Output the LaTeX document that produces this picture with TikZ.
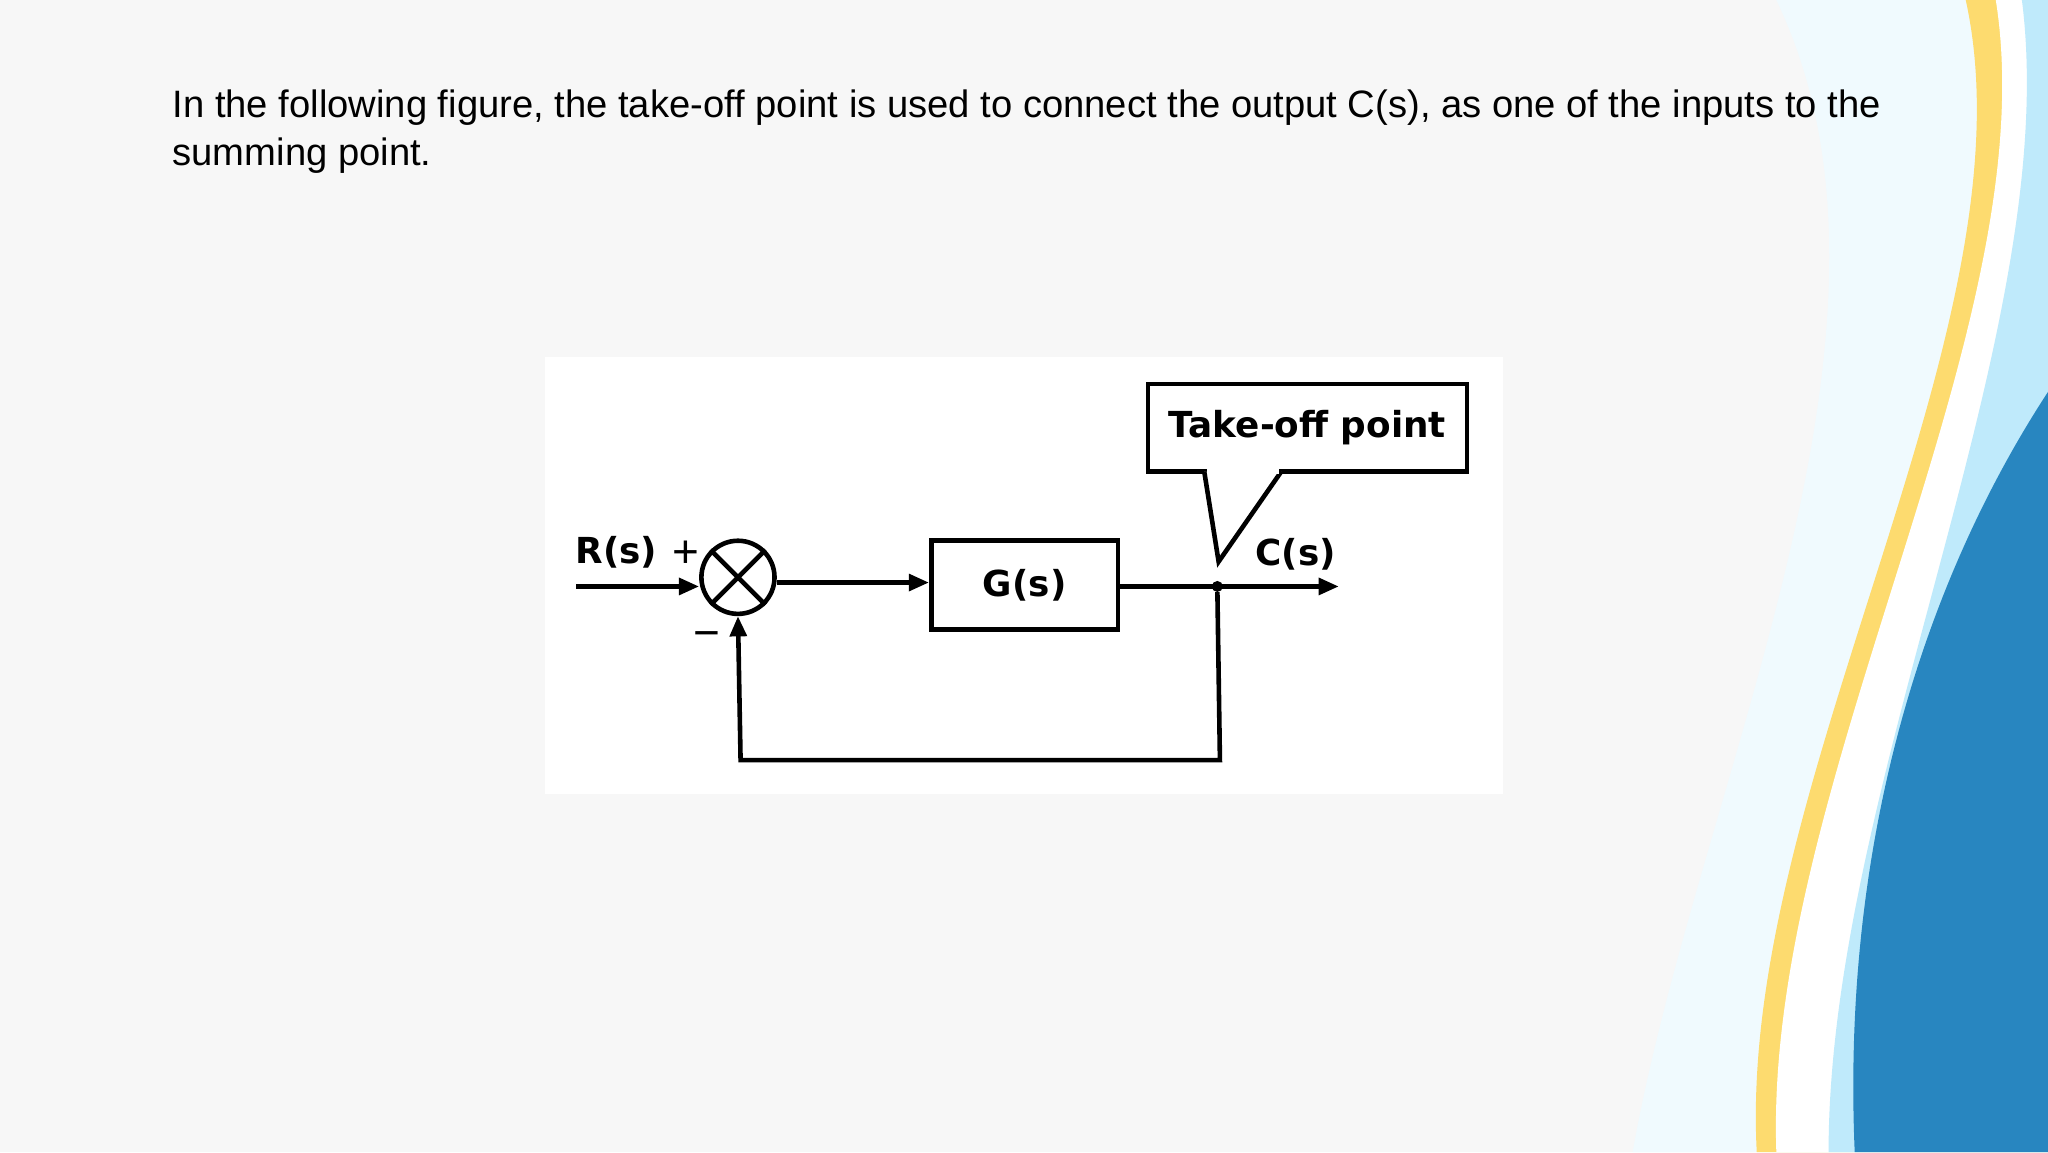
\documentclass[tikz,border=0pt]{standalone}
\usepackage{fontspec}
\setmainfont{Liberation Sans}
\newfontfamily\diafont{DejaVu Sans}
\usetikzlibrary{arrows.meta}
\begin{document}
\begin{tikzpicture}[x=0.05cm,y=-0.05cm,
  ln/.style={line width=5pt},
  arr/.style={ln,-{Triangle[length=22pt,width=18pt]}},
  lbl/.style={font=\diafont\bfseries\fontsize{39}{46}\selectfont,inner sep=0pt}]
\useasboundingbox (0,0) rectangle (1568,882);
\fill[gray!6] (0,0) rectangle (1568,882);
% decorative waves
\fill[cyan!6!white] (1360,0) .. controls (1480,250) and (1300,600) .. (1250,882) -- (1568,882) -- (1568,0) -- cycle;
\fill[yellow!55!orange!55!white] (1505,0) .. controls (1560,250) and (1330,600) .. (1345,882) -- (1568,882) -- (1568,0) -- cycle;
\fill[white] (1528,0) .. controls (1568,250) and (1350,600) .. (1360,882) -- (1568,882) -- (1568,0) -- cycle;
\fill[cyan!25!white] (1548,0) .. controls (1580,250) and (1400,600) .. (1400,882) -- (1568,882) -- (1568,0) -- cycle;
\fill[cyan!75!blue!85!black] (1568,300) .. controls (1470,450) and (1410,650) .. (1420,882) -- (1568,882) -- cycle;
% heading
\node[anchor=west,align=left,inner sep=0pt,font=\fontsize{41.6}{52}\selectfont] (head) at (132,101)
 {In the following figure, the take-off point is used to connect the output C(s), as one of the inputs to the\\summing point.};
% diagram panel
\fill[white] (417,273) rectangle (1151,608);
\node[draw,ln,minimum width=244*0.05cm,minimum height=67*0.05cm,lbl] (call) at (1001,327.5) {Take-off point};
\draw[ln,fill=white] (922,361) -- (933,430) -- (981,361);
\draw[white,line width=5pt] (924,361) -- (979,361);
\node[circle,draw,ln,minimum size=56*0.05cm,inner sep=0pt] (sum) at (565,442) {};
\draw[ln] (sum.45) -- (sum.225) (sum.135) -- (sum.315);
\node[draw,ln,minimum width=143*0.05cm,minimum height=68*0.05cm,lbl] (G) at (784.5,448) {G(s)};
\coordinate (in) at (441,449);
\coordinate (out) at (1025,449);
\node[circle,fill,inner sep=0pt,minimum size=12pt] (tp) at (932,449) {};
\coordinate (fb1) at (934,582);
\coordinate (fb2) at (567,582);
\node[lbl] (R) at (472,423) {R(s)};
\node[lbl,font=\fontsize{50}{50}\selectfont] (plus) at (525,424) {+};
\node[lbl,font=\fontsize{50}{50}\selectfont] (minus) at (541,490) {−};
\node[lbl] (C) at (992,424) {C(s)};
\draw[arr] (in) -- (sum.west |- in);
\draw[arr] (sum.east |- 0,446) -- (G.west |- 0,446);
\draw[arr] (G.east |- tp) -- (out);
\draw[arr] (tp) -- (fb1) -- (fb2) -- (sum.south);
\end{tikzpicture}
\end{document}
